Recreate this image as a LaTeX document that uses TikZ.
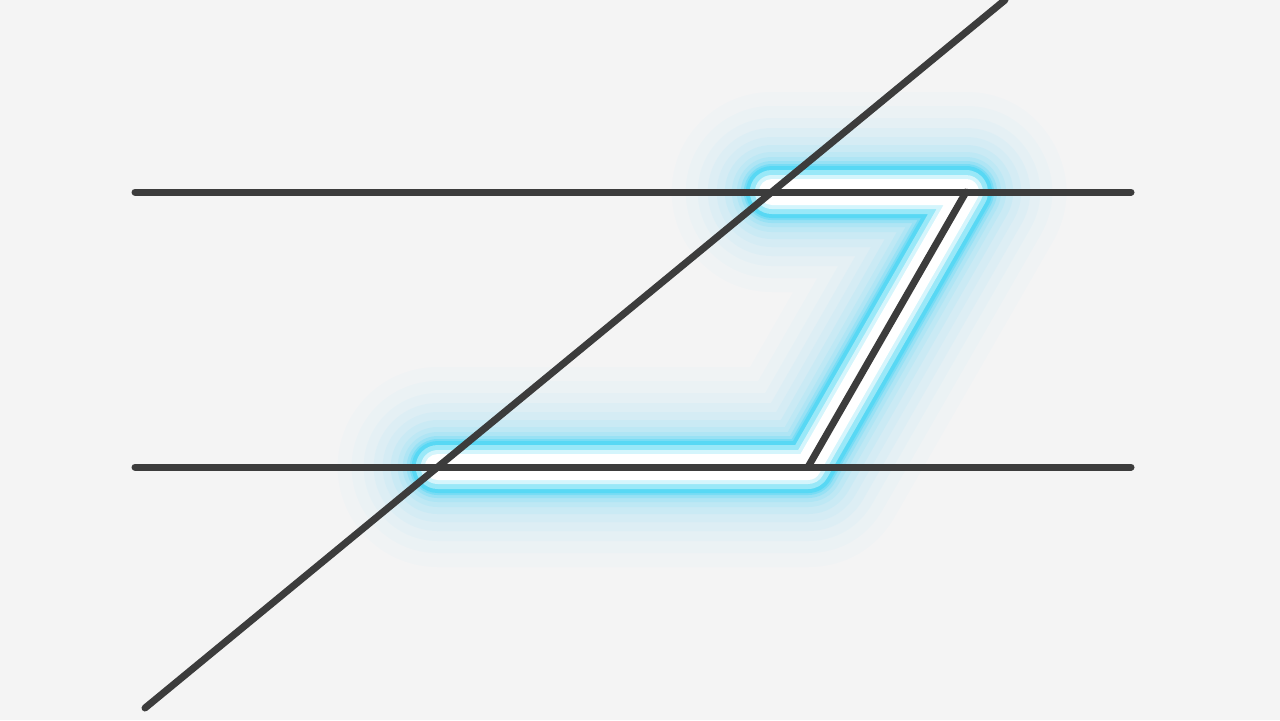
\documentclass[tikz,border=0pt]{standalone}
\usetikzlibrary{calc}
\definecolor{bgray}{HTML}{F4F4F4}
\definecolor{ink}{HTML}{3C3C3C}
\definecolor{glowc}{HTML}{55D8F4}
\tikzset{
  ln/.style={draw=ink,line width=3.5pt,line cap=round},
  glow/.style={draw=glowc,line join=round,line cap=round}
}
\begin{document}
\begin{tikzpicture}[x=0.5pt,y=-0.5pt]
  \fill[bgray] (0,0) rectangle (1280,720);
  \useasboundingbox (0,0) rectangle (1280,720);
  \coordinate (a1) at (135,192);
  \coordinate (a2) at (1131,192);
  \coordinate (b1) at (135,467);
  \coordinate (b2) at (1131,467);
  \coordinate (t1) at (145,708);
  \coordinate (t2) at (1005,0);
  \coordinate (p) at (771.8,192);
  \coordinate (q) at (966,192);
  \coordinate (r) at (808,467);
  \coordinate (s) at (437.7,467);
  % glow along the three sides
  \begin{scope}[glow]
    \foreach \w/\o in {100/0.025,86/0.03,74/0.04,64/0.05,55/0.06,47/0.08,40/0.1,35/0.14,31/0.25,28/0.45}
      \draw[line width=\w pt,opacity=\o] (p) -- (q) -- (r) -- (s);
    \draw[line width=26pt,opacity=0.9] (p) -- (q) -- (r) -- (s);
    \draw[draw=glowc!60,line width=22pt] (p) -- (q) -- (r) -- (s);
    \draw[draw=glowc!25,line width=17pt] (p) -- (q) -- (r) -- (s);
    \draw[draw=white,line width=13pt] (p) -- (q) -- (r) -- (s);
  \end{scope}
  % lines
  \draw[ln] (a1) -- (a2);
  \draw[ln] (b1) -- (b2);
  \draw[ln] (t1) -- (t2);
  \draw[ln] (q) -- (r);
\end{tikzpicture}
\end{document}
